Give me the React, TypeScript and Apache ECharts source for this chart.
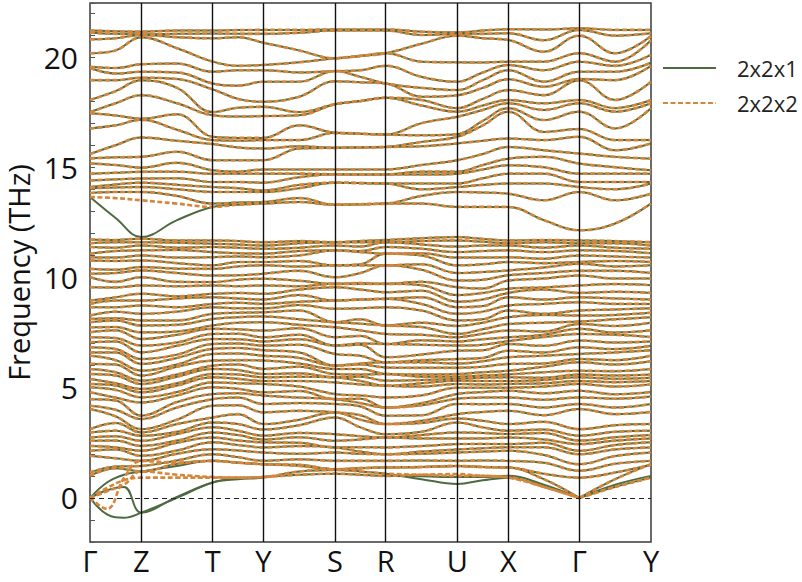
import React, { useEffect, useRef } from 'react';
import * as echarts from 'echarts';

// high-symmetry points along the k-path (distance units)
const kPos = [0, 51.3, 122.7, 173.3, 245, 295.7, 367.3, 418.3, 489.3, 561];
const kLabels = ['Γ', 'Z', 'T', 'Y', 'S', 'R', 'U', 'X', 'Γ', 'Y'];

// k-samples used for the optical bands (each high-symmetry point plus one between)
const bandX = [0, 25.6, 51.3, 87, 122.7, 148, 173.3, 209.2, 245, 270.4, 295.7, 331.5, 367.3, 392.8, 418.3, 453.8, 489.3, 525.2, 561];
// acoustic branches get one more sample on Γ-Z
const acousticX = [0, 17, 34, 51.3, 87, 122.7, 148, 173.3, 209.2, 245, 270.4, 295.7, 331.5, 367.3, 392.8, 418.3, 453.8, 489.3, 525.2, 561];

// upper optical block (THz), one list per k-sample, lowest band first
const upG = [13.65, 13.83, 14.05, 14.1, 14.4, 14.7, 15.17, 15.4, 15.6, 16.76, 17.45, 17.5, 18.05, 18.95, 19.5, 19.56, 20.17, 20.8, 21.1, 21.2];
const upGZ = [12.7, 13.88, 14.08, 14.22, 14.45, 14.75, 15.1, 15.45, 16.0, 16.9, 17.35, 17.9, 18.45, 18.95, 19.25, 19.5, 20.3, 20.85, 21.05, 21.17];
const upZ = [11.83, 13.88, 14.1, 14.3, 14.49, 14.79, 14.98, 15.47, 16.35, 17.15, 17.2, 18.27, 18.95, 19.06, 19.33, 19.67, 20.9, 21.0, 21.03, 21.15];
const upZT = [12.6, 13.7, 14.0, 14.2, 14.5, 14.8, 15.2, 15.7, 16.2, 16.7, 17.4, 17.9, 18.6, 19.0, 19.3, 19.7, 20.4, 20.9, 21.05, 21.2];
const upT = [13.2, 13.35, 13.88, 14.1, 14.33, 14.7, 14.86, 15.32, 16.05, 16.23, 16.38, 17.36, 17.5, 18.53, 18.8, 19.33, 19.79, 20.85, 21.07, 21.2];
const upTY = [13.3, 13.4, 13.88, 14.05, 14.33, 14.71, 14.8, 15.32, 15.9, 16.2, 16.33, 17.3, 17.7, 18.1, 18.7, 19.4, 19.6, 20.9, 21.05, 21.22];
const upY = [13.35, 13.42, 13.88, 13.95, 14.3, 14.71, 14.9, 15.32, 15.85, 16.23, 16.33, 17.32, 17.74, 17.97, 18.88, 19.4, 19.64, 20.65, 21.05, 21.23];
const upYS = [13.42, 13.6, 14.05, 14.2, 14.55, 14.71, 14.9, 15.85, 15.95, 16.23, 16.9, 17.36, 17.5, 18.2, 18.88, 19.3, 19.76, 20.3, 21.1, 21.23];
const upS = [13.3, 13.3, 14.3, 14.3, 14.68, 14.68, 14.9, 15.88, 15.88, 16.56, 16.56, 17.86, 17.86, 18.9, 19.36, 19.36, 19.94, 19.94, 21.2, 21.25];
const upSR = [13.32, 13.32, 14.28, 14.28, 14.67, 14.67, 14.9, 15.9, 15.9, 16.52, 16.52, 18.0, 18.0, 18.85, 19.1, 19.4, 20.05, 20.05, 21.2, 21.25];
const upR = [13.35, 13.35, 14.26, 14.26, 14.67, 14.67, 14.9, 15.92, 15.92, 16.48, 16.48, 18.15, 18.15, 18.8, 18.8, 19.6, 20.17, 20.17, 21.2, 21.25];
const upRU = [13.35, 13.7, 14.0, 14.26, 14.67, 14.8, 15.1, 15.95, 16.15, 16.45, 17.0, 17.8, 18.05, 18.2, 18.6, 19.1, 19.79, 20.6, 21.0, 21.15];
const upU = [13.2, 13.88, 14.1, 14.26, 14.71, 14.8, 15.32, 16.08, 16.38, 16.5, 17.29, 17.52, 17.68, 18.27, 18.5, 18.88, 19.76, 20.97, 21.05, 21.12];
const upUX = [13.2, 13.85, 14.2, 14.5, 14.9, 15.1, 15.6, 16.2, 16.9, 17.1, 17.6, 17.8, 18.1, 18.6, 18.95, 19.3, 19.75, 20.85, 21.05, 21.2];
const upX = [13.2, 13.8, 14.26, 14.71, 15.09, 15.39, 15.92, 16.3, 17.52, 17.68, 17.9, 18.05, 18.5, 18.99, 19.4, 19.64, 19.79, 20.77, 21.08, 21.26];
const upXG = [12.6, 13.5, 14.26, 14.71, 15.0, 15.47, 15.77, 16.23, 16.6, 17.14, 17.6, 17.9, 18.27, 18.65, 18.88, 19.4, 19.79, 20.24, 20.76, 21.25];
const upG2 = [12.14, 13.88, 14.1, 14.33, 14.71, 15.17, 15.62, 16.38, 16.73, 17.52, 17.9, 18.05, 18.95, 19.0, 19.33, 19.79, 20.17, 20.97, 21.23, 21.3];
const upGY = [12.45, 13.5, 14.0, 14.33, 14.71, 15.0, 15.47, 15.77, 16.23, 16.76, 17.52, 17.68, 18.05, 18.95, 19.33, 19.6, 19.79, 20.17, 20.97, 21.23];
const upY2 = [13.35, 13.8, 14.26, 14.33, 14.71, 14.86, 15.39, 16.08, 16.23, 17.68, 17.9, 18.05, 18.88, 19.6, 19.74, 20.1, 20.76, 20.95, 21.08, 21.23];

// 2x2x2: lowest upper band on Γ-Z-T does not dip like 2x2x1
const upBand0Alt222 = [13.65, 13.6, 13.5, 13.35, 13.2];

// lower optical block (THz)
const lowG = [1.0, 1.15, 1.91, 2.14, 2.36, 2.59, 2.74, 2.97, 3.12, 4.03, 4.18, 4.48, 4.79, 5.02, 5.17, 5.39, 5.62, 5.85, 6.08, 6.45, 6.6, 6.83, 7.06, 7.29, 7.51, 7.74, 7.97, 8.12, 8.27, 8.65, 8.8, 8.95, 9.56, 10.01, 10.17, 10.39, 10.77, 10.92, 11.08, 11.38, 11.55, 11.72];
const lowGZ = [1.35, 1.42, 1.8, 2.2, 2.3, 2.6, 2.8, 3.05, 3.4, 3.7, 4.0, 4.42, 4.55, 4.9, 5.1, 5.2, 5.55, 5.7, 6.05, 6.25, 6.6, 6.75, 7.1, 7.25, 7.6, 7.75, 8.05, 8.15, 8.45, 8.65, 8.95, 9.1, 9.55, 9.8, 10.2, 10.35, 10.75, 10.9, 11.2, 11.35, 11.6, 11.7];
const lowZ = [1.2, 1.45, 1.68, 1.91, 2.14, 2.36, 2.59, 2.82, 2.97, 3.12, 3.58, 3.73, 4.33, 4.56, 4.79, 4.94, 5.17, 5.32, 5.55, 5.77, 6.08, 6.3, 6.6, 6.91, 7.21, 7.51, 7.82, 8.05, 8.35, 8.73, 8.95, 9.26, 9.64, 10.01, 10.32, 10.47, 10.77, 11.0, 11.23, 11.45, 11.6, 11.76];
const lowZT = [1.55, 1.7, 2.0, 2.15, 2.5, 2.6, 2.9, 3.0, 3.35, 3.55, 4.1, 4.35, 4.65, 4.8, 5.1, 5.2, 5.5, 5.6, 5.95, 6.05, 6.35, 6.5, 6.9, 7.05, 7.4, 7.55, 7.85, 8.05, 8.45, 8.65, 9.05, 9.15, 9.6, 9.8, 10.2, 10.4, 10.65, 10.9, 11.25, 11.35, 11.58, 11.68];
const lowT = [1.68, 1.98, 2.21, 2.52, 2.74, 2.97, 3.2, 3.42, 3.65, 4.18, 4.48, 4.71, 5.02, 5.24, 5.47, 5.62, 5.85, 6.0, 6.23, 6.53, 6.76, 6.98, 7.21, 7.44, 7.67, 7.82, 8.12, 8.35, 8.65, 8.8, 9.1, 9.26, 9.64, 9.79, 10.09, 10.39, 10.55, 10.92, 11.15, 11.38, 11.53, 11.68];
const lowTY = [1.6, 1.85, 2.15, 2.4, 2.6, 2.85, 3.05, 3.35, 3.8, 4.2, 4.55, 4.75, 4.95, 5.2, 5.4, 5.6, 5.8, 6.05, 6.25, 6.55, 6.8, 7.0, 7.2, 7.45, 7.65, 7.95, 8.2, 8.4, 8.6, 8.85, 9.05, 9.3, 9.6, 9.9, 10.1, 10.5, 10.7, 10.95, 11.1, 11.35, 11.5, 11.65];
const lowY = [1.53, 1.68, 2.06, 2.29, 2.52, 2.65, 2.82, 3.1, 3.35, 3.88, 4.26, 4.64, 4.79, 5.17, 5.3, 5.47, 5.62, 5.85, 6.23, 6.45, 6.7, 6.91, 7.1, 7.29, 7.59, 7.97, 8.23, 8.42, 8.6, 8.8, 9.0, 9.26, 9.64, 9.94, 10.17, 10.55, 10.7, 10.92, 11.08, 11.3, 11.45, 11.6];
const lowYS = [1.45, 1.75, 2.0, 2.35, 2.5, 2.75, 2.95, 3.3, 3.55, 3.95, 4.3, 4.55, 4.85, 5.05, 5.3, 5.5, 5.65, 5.95, 6.1, 6.35, 6.6, 6.95, 7.2, 7.4, 7.7, 7.85, 8.1, 8.5, 8.75, 8.9, 9.2, 9.45, 9.6, 9.85, 10.3, 10.5, 10.75, 11.0, 11.2, 11.35, 11.55, 11.65];
const lowS = [1.3, 1.68, 2.06, 2.29, 2.29, 2.59, 2.89, 3.65, 3.88, 3.88, 4.26, 4.48, 4.48, 4.71, 5.24, 5.47, 5.47, 5.62, 5.85, 6.0, 6.0, 6.53, 6.91, 6.91, 7.29, 7.74, 7.97, 7.97, 8.58, 8.95, 8.95, 9.56, 9.71, 9.71, 10.01, 10.55, 10.55, 11.23, 11.23, 11.45, 11.6, 11.6];
const lowSR = [1.35, 1.68, 2.0, 2.1, 2.3, 2.65, 2.8, 3.2, 3.55, 3.75, 4.15, 4.3, 4.5, 4.65, 5.15, 5.3, 5.5, 5.6, 5.85, 6.05, 6.1, 6.45, 6.95, 7.0, 7.35, 7.6, 7.9, 8.1, 8.6, 9.0, 9.0, 9.45, 9.7, 9.75, 10.2, 10.55, 10.6, 11.15, 11.2, 11.4, 11.6, 11.65];
const lowR = [1.38, 1.68, 1.98, 1.98, 2.29, 2.74, 2.74, 2.89, 3.35, 3.35, 3.73, 4.1, 4.1, 4.56, 5.09, 5.09, 5.32, 5.62, 5.62, 5.92, 6.15, 6.15, 6.38, 6.98, 6.98, 7.44, 7.82, 7.82, 8.65, 9.03, 9.03, 9.33, 9.71, 9.71, 10.55, 10.55, 11.08, 11.08, 11.38, 11.6, 11.6, 11.7];
const lowRU = [1.4, 1.7, 2.0, 2.1, 2.35, 2.7, 2.85, 3.0, 3.4, 3.5, 3.75, 4.2, 4.3, 4.65, 5.05, 5.2, 5.35, 5.5, 5.6, 5.9, 6.15, 6.25, 6.5, 6.95, 7.15, 7.4, 7.75, 7.95, 8.5, 8.8, 9.1, 9.4, 9.65, 9.8, 10.35, 10.6, 11.0, 11.1, 11.3, 11.5, 11.65, 11.78];
const lowU = [1.45, 1.68, 2.06, 2.2, 2.44, 2.7, 2.97, 3.42, 3.6, 3.8, 4.26, 4.5, 4.71, 5.0, 5.17, 5.32, 5.4, 5.5, 5.62, 5.9, 6.1, 6.3, 6.68, 6.91, 7.1, 7.29, 7.44, 7.8, 8.05, 8.35, 8.65, 8.9, 9.2, 9.56, 9.86, 10.2, 10.55, 10.9, 11.15, 11.4, 11.68, 11.83];
const lowUX = [1.4, 1.7, 2.1, 2.25, 2.45, 2.7, 2.95, 3.2, 3.5, 3.9, 4.25, 4.55, 4.8, 5.0, 5.15, 5.3, 5.45, 5.55, 5.7, 5.95, 6.2, 6.35, 6.7, 6.95, 7.2, 7.45, 7.65, 7.95, 8.1, 8.45, 8.7, 9.0, 9.3, 9.5, 9.9, 10.25, 10.6, 10.9, 11.2, 11.45, 11.62, 11.75];
const lowX = [1.38, 1.68, 2.14, 2.3, 2.44, 2.74, 2.9, 3.05, 3.35, 3.95, 4.26, 4.56, 4.86, 5.0, 5.17, 5.3, 5.47, 5.6, 5.77, 6.08, 6.38, 6.68, 6.98, 7.12, 7.29, 7.59, 7.89, 8.2, 8.5, 8.73, 9.1, 9.3, 9.49, 9.86, 10.1, 10.32, 10.7, 10.92, 11.23, 11.45, 11.55, 11.68];
const lowXG = [1.1, 1.6, 1.95, 2.3, 2.5, 2.65, 2.95, 3.1, 3.45, 3.75, 4.1, 4.45, 4.75, 5.05, 5.2, 5.35, 5.45, 5.7, 5.95, 6.1, 6.45, 6.6, 6.9, 7.3, 7.4, 7.55, 7.95, 8.3, 8.35, 8.8, 9.0, 9.45, 9.55, 9.95, 10.2, 10.45, 10.65, 10.85, 11.15, 11.35, 11.6, 11.7];
const lowG2 = [0.92, 1.23, 1.53, 1.98, 2.14, 2.44, 2.6, 2.82, 3.12, 4.03, 4.26, 4.56, 4.86, 5.17, 5.3, 5.47, 5.6, 5.77, 6.15, 6.3, 6.53, 6.83, 7.14, 7.44, 7.67, 7.89, 8.0, 8.27, 8.5, 8.88, 9.1, 9.3, 9.64, 10.09, 10.3, 10.62, 10.7, 11.0, 11.23, 11.45, 11.55, 11.68];
const lowGY = [1.15, 1.55, 1.9, 2.2, 2.4, 2.6, 2.75, 3.0, 3.3, 3.8, 4.1, 4.5, 4.7, 5.05, 5.25, 5.4, 5.55, 5.75, 6.05, 6.25, 6.6, 6.75, 7.05, 7.4, 7.5, 7.8, 8.1, 8.3, 8.55, 8.8, 9.05, 9.35, 9.7, 9.95, 10.3, 10.5, 10.75, 10.95, 11.2, 11.35, 11.55, 11.65];
const lowY2 = [1.5, 1.68, 2.06, 2.29, 2.52, 2.7, 2.85, 3.05, 3.35, 3.9, 4.26, 4.6, 4.8, 5.15, 5.3, 5.45, 5.6, 5.85, 6.2, 6.45, 6.7, 6.9, 7.1, 7.3, 7.6, 7.95, 8.2, 8.4, 8.6, 8.8, 9.0, 9.3, 9.65, 9.95, 10.2, 10.55, 10.7, 10.9, 11.1, 11.3, 11.45, 11.6];

// acoustic branches (THz) on acousticX; negative = imaginary modes
const acoustic221 = [
  [0, -0.75, -0.9, -0.67, 0.0, 0.7, 0.85, 0.92, 1.2, 1.27, 1.2, 1.1, 0.85, 0.63, 0.8, 0.92, 0.5, 0, 0.5, 0.92],
  [0, 0.35, 0.5, -0.67, 0.05, 0.7, 0.88, 0.95, 1.05, 1.1, 1.05, 1.0, 0.98, 0.95, 0.95, 1.0, 0.6, 0, 0.6, 1.0],
  [0, 0.7, 1.05, 1.2, 1.45, 1.68, 1.6, 1.53, 1.5, 1.3, 1.35, 1.38, 1.4, 1.45, 1.4, 1.38, 0.85, 0, 0.85, 1.53],
];
const acoustic222 = [
  [0, -0.5, 0.9, 1.68, 1.6, 1.68, 1.6, 1.53, 1.5, 1.3, 1.35, 1.38, 1.4, 1.45, 1.4, 1.38, 0.85, 0, 0.85, 1.53],
  [0, 0.45, 0.8, 0.92, 0.92, 0.92, 0.92, 0.95, 1.05, 1.1, 1.05, 1.0, 1.05, 1.08, 1.0, 0.95, 0.5, 0, 0.5, 0.92],
  [0, 0.3, 0.6, 1.2, 1.05, 0.95, 0.92, 0.95, 1.2, 1.27, 1.2, 1.1, 1.05, 1.0, 1.0, 0.92, 0.5, 0, 0.5, 0.92],
];

const upperCols = [upG, upGZ, upZ, upZT, upT, upTY, upY, upYS, upS, upSR, upR, upRU, upU, upUX, upX, upXG, upG2, upGY, upY2];
const lowerCols = [lowG, lowGZ, lowZ, lowZT, lowT, lowTY, lowY, lowYS, lowS, lowSR, lowR, lowRU, lowU, lowUX, lowX, lowXG, lowG2, lowGY, lowY2];

const GREEN = '#4e6a40';
const ORANGE = '#d4863a';
const FONT = '"Open Sans", "DejaVu Sans", sans-serif';

// one list per k-sample -> one list per band
const toBands = (cols: number[][]) => cols[0].map((_, b) => cols.map((c) => c[b]));

const bandSeries = (name: string, pts: number[][], dashed: boolean) => ({
  name,
  type: 'line',
  data: pts,
  smooth: 0.4,
  symbol: 'none',
  silent: true,
  z: dashed ? 3 : 2,
  color: dashed ? ORANGE : GREEN,
  lineStyle: {
    color: dashed ? ORANGE : GREEN,
    width: dashed ? 2.6 : 2,
    type: dashed ? [5, 2.5] : 'solid',
  },
});

const App: React.FC = () => {
  const chartRef = useRef<HTMLDivElement>(null);

  useEffect(() => {
    if (!chartRef.current) return;
    const chart = echarts.init(chartRef.current, null, { renderer: 'svg' });

    const upper = toBands(upperCols);
    const lower = toBands(lowerCols);
    const upper222 = upper.map((b, i) =>
      i === 0 ? [...upBand0Alt222, ...b.slice(upBand0Alt222.length)] : b
    );

    const pair = (xs: number[], ys: number[]) => xs.map((x, i) => [x, ys[i]]);
    // acoustic branches are split at the second Γ so the V stays sharp there
    const gammaIdx = acousticX.indexOf(kPos[8]);
    const acousticParts = (b: number[]) => {
      const pts = pair(acousticX, b);
      return [pts.slice(0, gammaIdx + 1), pts.slice(gammaIdx)];
    };

    const series: any[] = [];
    // 2x2x1 drawn first, 2x2x2 dashed on top
    acoustic221.forEach((b) => acousticParts(b).forEach((p) => series.push(bandSeries('2x2x1', p, false))));
    lower.forEach((b) => series.push(bandSeries('2x2x1', pair(bandX, b), false)));
    upper.forEach((b) => series.push(bandSeries('2x2x1', pair(bandX, b), false)));
    acoustic222.forEach((b) => acousticParts(b).forEach((p) => series.push(bandSeries('2x2x2', p, true))));
    lower.forEach((b) => series.push(bandSeries('2x2x2', pair(bandX, b), true)));
    upper222.forEach((b) => series.push(bandSeries('2x2x2', pair(bandX, b), true)));

    // high-symmetry verticals and the zero line
    series.push({
      type: 'line',
      data: [[0, 0]],
      symbol: 'none',
      silent: true,
      z: 6,
      markLine: {
        silent: true,
        symbol: ['none', 'none'],
        label: { show: false },
        animation: false,
        data: [
          ...kPos.slice(1, -1).map((v) => ({
            xAxis: v,
            lineStyle: { color: '#111', width: 1.4, type: 'solid' },
          })),
          { yAxis: 0, lineStyle: { color: '#222', width: 1.2, type: [5, 4] } },
        ],
      },
    });

    chart.setOption({
      animation: false,
      textStyle: { fontFamily: FONT },
      grid: {
        left: 90,
        right: 151,
        top: 3,
        bottom: 40,
        outerBoundsMode: 'none',
        show: true,
        borderColor: '#3a3a3a',
        borderWidth: 1.5,
      },
      legend: {
        data: ['2x2x1', '2x2x2'],
        orient: 'vertical',
        left: 662,
        top: 55,
        padding: 0,
        itemWidth: 53,
        itemHeight: 14,
        itemGap: 9,
        selectedMode: false,
        itemStyle: { opacity: 0 },
        textStyle: { fontFamily: FONT, fontSize: 22, color: '#222', lineHeight: 26, padding: [0, 0, 0, 16] },
      },
      xAxis: {
        type: 'value',
        min: 0,
        max: 561,
        axisLine: { show: false },
        axisTick: { show: false },
        splitLine: { show: false },
        axisLabel: {
          customValues: kPos,
          formatter: (v: number) => kLabels[kPos.indexOf(v)] ?? '',
          fontFamily: FONT,
          fontSize: 29,
          lineHeight: 29,
          color: '#111',
          margin: 4,
        },
      },
      yAxis: {
        type: 'value',
        min: -2,
        max: 22.45,
        interval: 1,
        name: 'Frequency (THz)',
        nameLocation: 'middle',
        nameGap: 49,
        nameTextStyle: { fontFamily: FONT, fontSize: 29, lineHeight: 29, color: '#111' },
        axisLine: { show: false },
        axisTick: { show: true, inside: true, length: 5, lineStyle: { color: '#555', width: 1 } },
        splitLine: { show: false },
        axisLabel: {
          formatter: (v: number) => (v % 5 === 0 ? String(v) : ''),
          fontFamily: FONT,
          fontSize: 30,
          color: '#111',
          margin: 12,
        },
      },
      series,
    });

    return () => {
      chart.dispose();
    };
  }, []);

  return (
    <div
      ref={chartRef}
      style={{ position: 'absolute', left: 0, top: 0, width: 802, height: 582, background: '#fff' }}
    />
  );
};

export default App;
